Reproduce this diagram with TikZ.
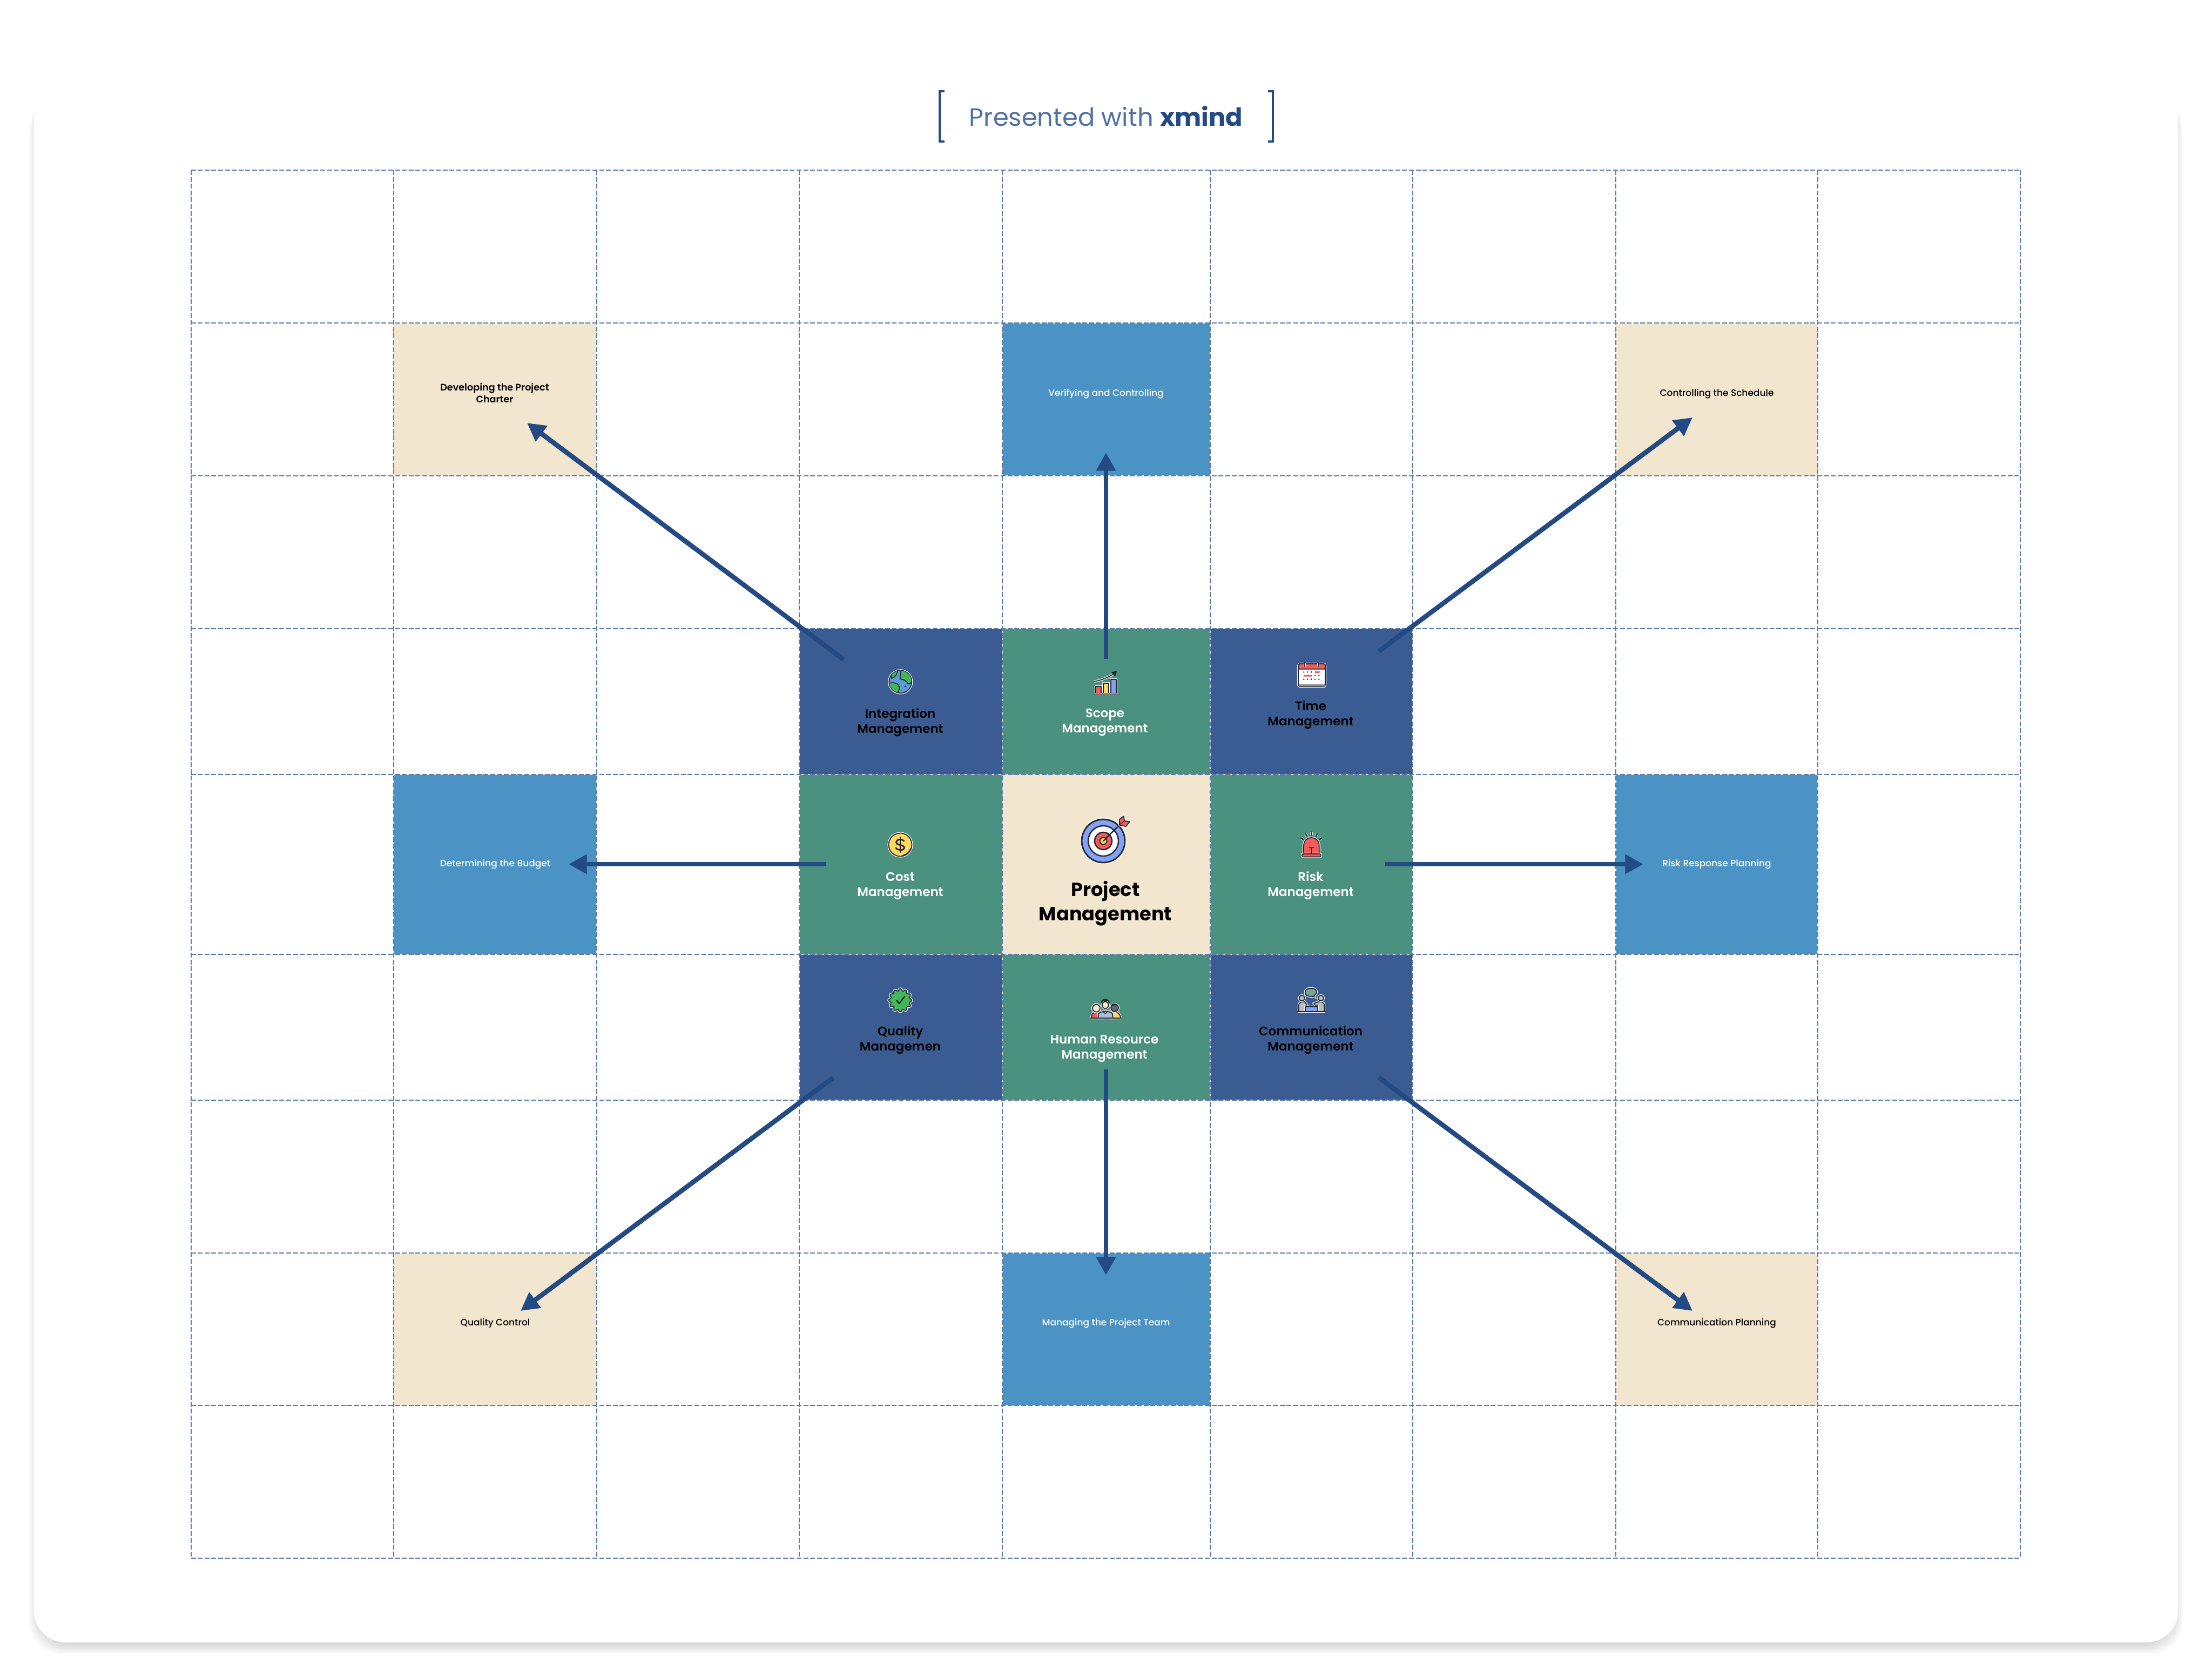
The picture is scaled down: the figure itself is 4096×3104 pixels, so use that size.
\documentclass[tikz,border=0pt]{standalone}
\usepackage{fontspec}
\setmainfont{Poppins}
\newfontfamily\popmed{Poppins Medium}
\newfontfamily\popsemi{Poppins SemiBold}
\usetikzlibrary{arrows.meta}
\definecolor{cream}{HTML}{F2E6CF}
\definecolor{teal}{HTML}{4A9180}
\definecolor{navy}{HTML}{3B5C92}
\definecolor{sky}{HTML}{4A93C4}
\definecolor{arrowblue}{HTML}{234A84}
\definecolor{gridblue}{HTML}{5A7AAB}
\definecolor{titleblue}{HTML}{4F70A5}
\definecolor{icdark}{HTML}{23262E}
\definecolor{icred}{HTML}{F45B5B}
\definecolor{icyellow}{HTML}{FFD95E}
\definecolor{icblue}{HTML}{82A2F5}
\definecolor{icearth}{HTML}{5A9BD8}
\definecolor{icgreen}{HTML}{43B65A}
\definecolor{icskin}{HTML}{FBE6C8}
\definecolor{icgrey}{HTML}{B9BEC4}
\definecolor{icshirt}{HTML}{A9BEDD}
\tikzset{
  gridline/.style={draw=gridblue,line width=0.5pt,dash pattern=on 2.25pt off 0.9pt},
  cellbox/.style={inner sep=0pt,outer sep=0pt,rectangle},
  flow/.style={draw=arrowblue,line width=2.2pt,-{Triangle[length=8.4pt,width=8.6pt]}},
  midlabel/.style={inner sep=0pt,align=center,font=\popsemi\fontsize{5.75}{7}\selectfont},
  rootlabel/.style={inner sep=0pt,align=center,font=\bfseries\fontsize{8.8}{11.25}\selectfont},
  leaflabel/.style={inner sep=0pt,align=center,font=\popmed\fontsize{4.25}{5.5}\selectfont},
  ic/.style={draw=icdark,line width=0.45pt,line join=round,line cap=round,preaction={draw=white,line width=1.05pt}},
  icl/.style={draw=icdark,line width=0.45pt,line join=round,line cap=round},
}
\newcommand{\cellnode}[6]{%
  \pgfmathsetmacro{\cw}{(#4-#2-2)*0.25}\pgfmathsetmacro{\ch}{(#5-#3-2)*0.25}%
  \node[cellbox,fill=#6,minimum width=\cw pt,minimum height=\ch pt] (#1) at ({(#2+#4)/2},{(#3+#5)/2}) {};}
\begin{document}
\begin{tikzpicture}[x=0.25pt,y=-0.25pt]
\useasboundingbox (0,0) rectangle (4096,3104);
\begin{scope}
\clip (0,0) rectangle (4096,3104);
\fill[white] (0,0) rectangle (4096,3104);
% soft card shadow
\foreach \e in {2,4,...,40}{
  \fill[black,opacity=0.0016,rounded corners=15pt] ({63-\e},{90+2.5*\e}) rectangle ({4033+\e},{3081+\e});
}
\foreach \e in {-9,-8,...,10}{
  \pgfmathsetmacro{\topy}{100+5*(\e+9)}
  \fill[black,opacity=0.006,rounded corners=15pt] ({63-\e},\topy) rectangle ({4033+\e},{3053+\e});
}
\fill[white,rounded corners=14.5pt] (63,90) rectangle (4033,3041);
\end{scope}
% title
\draw[arrowblue,line width=0.85pt] (1749,169) -- (1740,169) -- (1740,262) -- (1749,262);
\draw[arrowblue,line width=0.85pt] (2348,169) -- (2357,169) -- (2357,262) -- (2348,262);
\node[inner sep=0pt,anchor=base,font=\fontsize{11.6}{15}\selectfont] (title) at (2048,234) {\textcolor{titleblue}{Presented with} \textcolor{arrowblue}{\bfseries xmind}};
% cells
\cellnode{charter}{729}{598}{1104.5}{881}{cream}
\cellnode{verify}{1855.5}{598}{2240.5}{881}{sky}
\cellnode{schedule}{2991.5}{598}{3365.5}{881}{cream}
\cellnode{integ}{1480}{1163.5}{1855.5}{1433.5}{navy}
\cellnode{scope}{1855.5}{1163.5}{2240.5}{1433.5}{teal}
\cellnode{time}{2240.5}{1163.5}{2616}{1433.5}{navy}
\cellnode{budget}{729}{1433.5}{1104.5}{1767}{sky}
\cellnode{cost}{1480}{1433.5}{1855.5}{1767}{teal}
\cellnode{root}{1855.5}{1433.5}{2240.5}{1767}{cream}
\cellnode{risk}{2240.5}{1433.5}{2616}{1767}{teal}
\cellnode{response}{2991.5}{1433.5}{3365.5}{1767}{sky}
\cellnode{quality}{1480}{1767}{1855.5}{2037}{navy}
\cellnode{human}{1855.5}{1767}{2240.5}{2037}{teal}
\cellnode{comm}{2240.5}{1767}{2616}{2037}{navy}
\cellnode{qcontrol}{729}{2319.5}{1104.5}{2602}{cream}
\cellnode{team}{1855.5}{2319.5}{2240.5}{2602}{sky}
\cellnode{commplan}{2991.5}{2319.5}{3365.5}{2602}{cream}
% grid
\foreach \gx in {353.5,729,1104.5,1480,1855.5,2240.5,2616,2991.5,3365.5,3741}{
  \draw[gridline] (\gx,315) -- (\gx,2885);
}
\foreach \gy in {315,598,881,1163.5,1433.5,1767,2037,2319.5,2602,2885}{
  \draw[gridline] (353.5,\gy) -- (3741,\gy);
}
% labels
\node[leaflabel,font=\popsemi\fontsize{4.4}{5.5}\selectfont,text=black] (charterT) at (916,728) {Developing the Project\\Charter};
\node[leaflabel,text=white] (verifyT) at (2048,729) {Verifying and Controlling};
\node[leaflabel,text=black] (scheduleT) at (3179,729) {Controlling the Schedule};
\node[leaflabel,text=white] (budgetT) at (917,1600) {Determining the Budget};
\node[leaflabel,text=white] (responseT) at (3179,1600) {Risk Response Planning};
\node[leaflabel,text=black] (qcontrolT) at (917,2450) {Quality Control};
\node[leaflabel,text=white] (teamT) at (2048,2450) {Managing the Project Team};
\node[leaflabel,text=black] (commplanT) at (3179,2450) {Communication Planning};
\node[midlabel,text=black] (integT) at (1667,1337.5) {Integration\\Management};
\node[midlabel,text=white] (scopeT) at (2046,1337.5) {Scope\\Management};
\node[midlabel,text=black] (timeT) at (2427,1323.5) {Time\\Management};
\node[midlabel,text=white] (costT) at (1667,1640) {Cost\\Management};
\node[rootlabel,text=black] (rootT) at (2047,1673) {Project\\Management};
\node[midlabel,text=white] (riskT) at (2427,1640) {Risk\\Management};
\node[midlabel,text=black] (qualityT) at (1667,1926) {Quality\\Managemen};
\node[midlabel,text=white] (humanT) at (2045,1941.5) {Human Resource\\Management};
\node[midlabel,text=black] (commT) at (2427,1926) {Communication\\Management};
% connector ends
\coordinate (a1) at (1562,1221); \coordinate (b1) at (976,783);
\coordinate (a2) at (2048,1220); \coordinate (b2) at (2048,838);
\coordinate (a3) at (2553,1206); \coordinate (b3) at (3134,773);
\coordinate (a4) at (1530,1600); \coordinate (b4) at (1053,1600);
\coordinate (a5) at (2565,1600); \coordinate (b5) at (3043,1600);
\coordinate (a6) at (1543,1995); \coordinate (b6) at (964,2427);
\coordinate (a7) at (2048,1980); \coordinate (b7) at (2048,2361);
\coordinate (a8) at (2553,1995); \coordinate (b8) at (3134,2427);
\foreach \i in {1,...,8}{ \draw[flow] (a\i) -- (b\i); }
% globe icon
\begin{scope}[shift={(1667.3,1262.3)}]
  \draw[ic,fill=icearth] (0,0) circle[radius=21];
  \begin{scope}
    \clip (0,0) circle[radius=20.5];
    \fill[icgreen,draw=icdark,line width=0.4pt] (-22,3) .. controls (-12,0) and (-4,3) .. (-2,9) .. controls (0,14) and (-6,18) .. (-4,24) -- (-22,24) -- cycle;
    \fill[icgreen,draw=icdark,line width=0.4pt] (1,-24) .. controls (2,-16) and (-2,-10) .. (0,-5) .. controls (6,-4) and (12,-2) .. (14,4) .. controls (20,4) and (24,0) .. (24,-24) -- cycle;
    \fill[icgreen,draw=icdark,line width=0.4pt] (-10,-24) .. controls (-16,-16) and (-18,-12) .. (-16,-6) .. controls (-10,-8) and (-6,-14) .. (-4,-24) -- cycle;
  \end{scope}
  \fill[icdark] (9,8.5) circle[radius=1.6];
\end{scope}
% bar chart icon
\begin{scope}[shift={(2010,1228)}]
  \draw[ic,fill=icred] (19,56.7) rectangle (29.3,43.3);
  \draw[ic,fill=icyellow] (33.3,56.7) rectangle (43.3,37.3);
  \draw[ic,fill=icblue] (46.7,56.7) rectangle (56.7,30);
  \draw[ic,line width=0.55pt] (15,56.7) -- (62,56.7);
  \draw[ic] (16,34) .. controls (30,31) and (44,26) .. (54,18);
  \draw[icl,fill=icdark] (57,15.5) -- (49,17) -- (54.5,23) -- cycle;
\end{scope}
% calendar icon
\begin{scope}[shift={(2390,1212)}]
  \draw[ic,fill=white,rounded corners=0.8pt] (14,17.3) rectangle (64,59.3);
  \fill[icgrey!70!icdark] (15,55) rectangle (63,58.8);
  \draw[icl,fill=icred,rounded corners=0.5pt] (14,17.3) rectangle (64,26.7);
  \draw[ic,line width=0.55pt] (25.7,15) -- (25.7,21.7);
  \draw[ic,line width=0.55pt] (51,15) -- (51,21.7);
  \foreach \dx/\dy in {24.3/32.3,31.3/32.3,38.3/32.3,45/39,52.3/39,24.3/45.7,31.3/45.7,38.3/45.7,45/45.7,52.3/45.7}{
    \fill[icdark] (\dx,\dy) circle[radius=1.4];
  }
  \fill[icred,rounded corners=0.3pt] (44.3,30.8) rectangle (54,33.8);
  \fill[icred,rounded corners=0.3pt] (23.3,37.5) rectangle (40,40.5);
\end{scope}
% coin icon
\begin{scope}[shift={(1667,1564)}]
  \draw[ic,fill=icyellow] (0,0) circle[radius=21.5];
  \draw[icl,line width=0.35pt] (19,7) .. controls (17,14) and (11,18) .. (4,20);
  \draw[icl,line width=0.7pt] (7,-7) .. controls (4,-11) and (-7,-11) .. (-7.5,-5) .. controls (-8,2) and (8,-1) .. (7.5,6) .. controls (7,11) and (-5,11) .. (-8,6);
  \draw[icl,line width=0.7pt] (0,-14) -- (0,14);
\end{scope}
% target icon
\begin{scope}[shift={(2043,1557)}]
  \draw[ic,line width=0.7pt,preaction={draw=white,line width=1.4pt},fill=icblue] (0,0) circle[radius=40];
  \draw[icl,line width=0.6pt,fill=white] (0,0) circle[radius=28];
  \draw[icl,line width=0.6pt,fill=icred] (0,0) circle[radius=16];
  \draw[icl,line width=0.5pt,fill=icyellow] (0,0) circle[radius=6.5];
  \draw[icl,line width=0.6pt] (0,0) -- (30,-30);
  \draw[ic,fill=icred] (30,-30) -- (30,-40) -- (38,-46) -- (39,-37) -- (49,-36) -- (42,-27) -- (31,-29) -- cycle;
  \draw[icl,line width=0.35pt] (30,-30) -- (40,-38);
\end{scope}
% siren icon
\begin{scope}[shift={(2390,1526)}]
  \draw[ic,fill=icred] (24,55) -- (24,40) .. controls (24,31) and (30,25) .. (38.3,25) .. controls (46.7,25) and (52.7,31) .. (52.7,40) -- (52.7,55) -- cycle;
  \draw[ic,fill=icred,rounded corners=0.5pt] (21,55) rectangle (56,60.5);
  \draw[icl] (34.5,43.5) -- (42.5,43.5);
  \draw[icl] (38.5,43.5) -- (38.5,55);
  \foreach \rx/\ry/\sx/\sy in {38.3/15/38.3/20,27.5/18/30/22.5,49/18/46.5/22.5,19/25.5/23/28,57.5/25.5/53.5/28}{
    \draw[icl,line width=0.7pt,preaction={draw=white,line width=1.3pt}] (\rx,\ry) -- (\sx,\sy);
  }
\end{scope}
% badge icon
\begin{scope}[shift={(1667,1852)}]
  \draw[ic,fill=icgreen] plot[samples=121,domain=0:360] ({(19.5+2*cos(12*\x))*cos(\x)},{(19.5+2*cos(12*\x))*sin(\x)}) -- cycle;
  \draw[icl,line width=0.6pt] (-7,0) -- (-2,6) -- (8,-7);
\end{scope}
% people icon
\begin{scope}[shift={(2005,1830)}]
  \draw[ic,fill=icred] (16,55) -- (17,48) .. controls (18,45) and (24,44) .. (27,44) .. controls (31,44) and (34,46) .. (35,55) -- cycle;
  \draw[ic,fill=icyellow] (52,55) -- (53,47) .. controls (55,45) and (58,44) .. (60,44) .. controls (65,45) and (69,46) .. (70,55) -- cycle;
  \draw[ic,fill=icshirt] (28,55) -- (29,47) .. controls (31,44) and (37,43) .. (41.7,42) .. controls (47,43) and (53,44) .. (55,47) -- (56,55) -- cycle;
  \draw[ic,fill=icskin] (25,36.7) circle[radius=7];
  \draw[ic,fill=icdark!70] (59,36) circle[radius=7];
  \fill[icdark] (52,33) .. controls (52,26) and (65,26) .. (66,33) -- (60,31) -- cycle;
  \draw[ic,fill=icskin,rounded corners=2pt] (35.5,24) rectangle (48,38);
  \fill[icdark] (34,27) .. controls (32,18) and (50,16) .. (50,27) -- (48,28) -- (47,24) -- (37,24) -- (36,28) -- cycle;
  \draw[icl] (14.5,55) -- (71.5,55);
  \draw[icl,line width=0.35pt] (37,42.5) -- (41.7,47) -- (46,42.5);
\end{scope}
% communication icon
\begin{scope}[shift={(2390,1814)}]
  \draw[ic,fill=icgrey] (15,59) -- (15,46) .. controls (15,42) and (22,40) .. (26,41) -- (30,47) -- (27,50) -- (27,59) -- cycle;
  \draw[ic,fill=icgrey] (62,59) -- (62,46) .. controls (62,42) and (55,40) .. (51,41) -- (43,44) -- (46,48) -- (50,47) -- (50,59) -- cycle;
  \draw[ic,fill=icgrey] (20.7,34) circle[radius=5.2];
  \draw[ic,fill=icgrey] (56,34) circle[radius=5.2];
  \draw[ic,fill=icblue] (26.7,50) rectangle (50,59);
  \draw[icl,line width=0.55pt] (12.7,59.3) -- (64,59.3);
  \draw[ic,fill=teal!60!icgrey] (37.3,15.8) .. controls (45,15.8) and (48,19) .. (48,23.3) .. controls (48,26) and (46,28) .. (43,29.5) -- (44,32) -- (38.5,30.8) .. controls (30,30.8) and (26.6,28) .. (26.6,23.3) .. controls (26.6,19) and (30,15.8) .. (37.3,15.8) -- cycle;
\end{scope}
\end{tikzpicture}
\end{document}
